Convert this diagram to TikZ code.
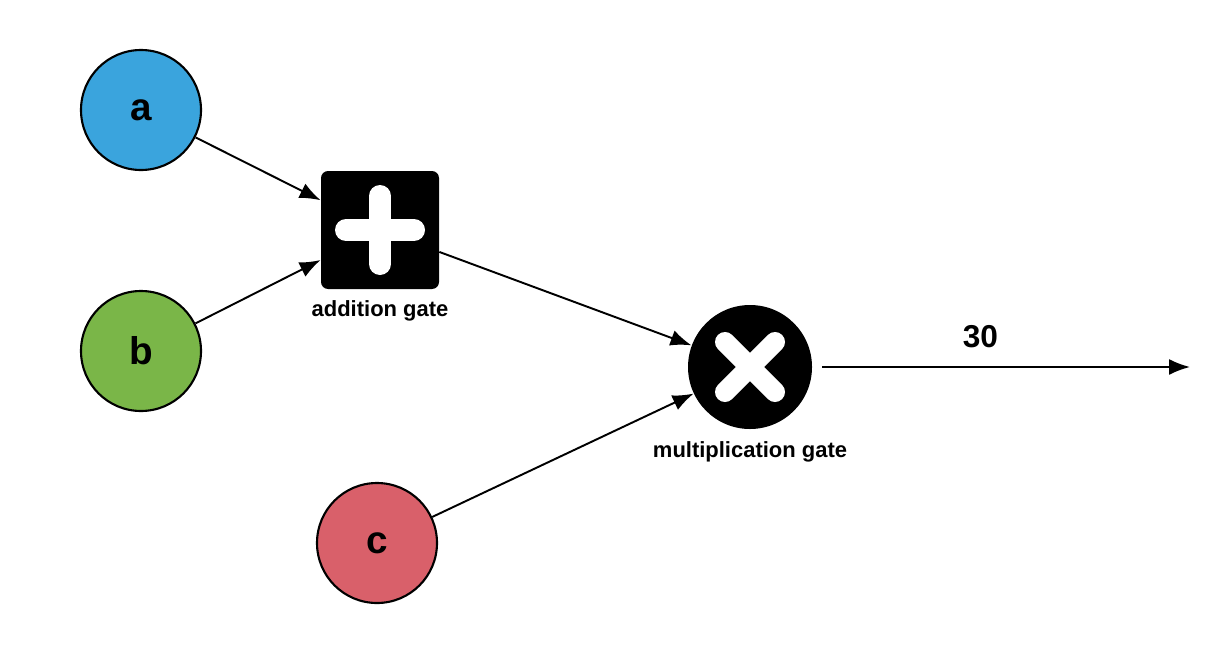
\documentclass[tikz,border=0pt]{standalone}
\usepackage{fontspec}
\setmainfont{Liberation Sans}
\usetikzlibrary{arrows.meta,positioning}
\definecolor{inblue}{HTML}{3AA4DD}
\definecolor{ingreen}{HTML}{7AB648}
\definecolor{inred}{HTML}{D9606A}
\tikzset{
  >={Latex[length=4.2mm,width=3.2mm]},
  invar/.style={
    circle,
    draw=black, line width=1.2pt,
    minimum size=2.4cm,
    font=\fontsize{22}{24}\selectfont\bfseries},
  gate/.style={
    fill=black,
    minimum size=2.36cm,
    inner sep=0pt},
  glyph/.style={white, line width=4.4mm, line cap=round},
  line/.style={draw, line width=1.1pt, ->},
  gatelabel/.style={font=\fontsize{12.5}{14}\selectfont\bfseries},
}
\begin{document}
\begin{tikzpicture}
  \useasboundingbox (0,0) rectangle (24.2,13.12);
  % inputs
  \node[invar, fill=inblue] (a) at (2.82,10.92) {a};
  \node[invar, fill=ingreen] (b) at (2.82,6.1) {b};
  \node[invar, fill=inred] (c) at (7.54,2.26) {c};
  % gates
  \node[gate, rectangle, rounded corners=4pt] (plus) at (7.6,8.52) {};
  \node[gate, circle, minimum size=2.48cm] (times) at (15.0,5.78) {};
  \draw[glyph] ([xshift=-0.68cm]plus.center) -- ([xshift=0.68cm]plus.center);
  \draw[glyph] ([yshift=-0.68cm]plus.center) -- ([yshift=0.68cm]plus.center);
  \draw[glyph, line width=4mm] ([shift={(-0.5,-0.5)}]times.center) -- ([shift={(0.5,0.5)}]times.center);
  \draw[glyph, line width=4mm] ([shift={(-0.5,0.5)}]times.center) -- ([shift={(0.5,-0.5)}]times.center);
  \node[gatelabel, below=0.1cm of plus] (addlbl) {addition gate};
  \node[gatelabel, below=0.12cm of times] (mullbl) {multiplication gate};
  \coordinate (out) at (23.8,5.78);
  % connectors
  \path[line] (a) -- (plus);
  \path[line] (b) -- (plus);
  \path[line] (plus) -- (times);
  \path[line] (c) -- (times);
  \path[line] ([xshift=0.2cm]times.east) -- (out)
    node[pos=0.43, above=0.25cm, font=\fontsize{18}{20}\selectfont\bfseries] (res) {30};
\end{tikzpicture}
\end{document}
